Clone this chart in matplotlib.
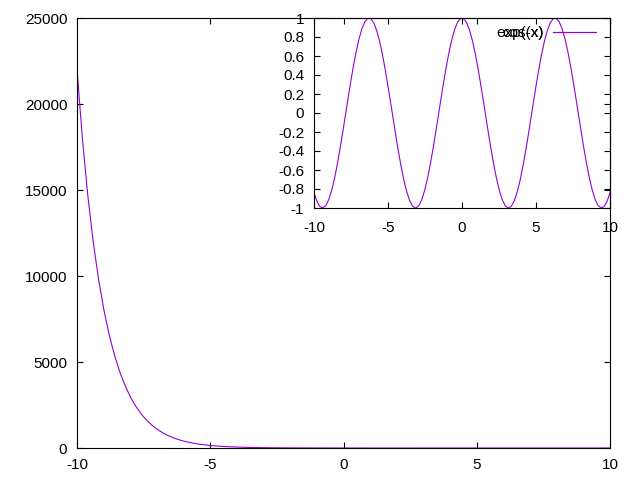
import matplotlib

matplotlib.use("Agg")
import matplotlib.pyplot as plt
import numpy as np

# gnuplot-style function plot: exp(-x) with a cos(x) inset, 100 samples
x = np.linspace(-10, 10, 100)
exp_vals = np.exp(-x)
cos_vals = np.cos(x)

main_xticks = [-10, -5, 0, 5, 10]
main_yticks = [0, 5000, 10000, 15000, 20000, 25000]
inset_xticks = [-10, -5, 0, 5, 10]
inset_yticks = [-1, -0.8, -0.6, -0.4, -0.2, 0, 0.2, 0.4, 0.6, 0.8, 1]
inset_ylabels = ["-1", "-0.8", "-0.6", "-0.4", "-0.2", "0", "0.2", "0.4", "0.6", "0.8", "1"]

color = "#9400d3"

plt.rcParams["font.family"] = ["Liberation Sans", "DejaVu Sans"]
plt.rcParams["font.size"] = 11
plt.rcParams["axes.unicode_minus"] = False

W, H = 640, 480
fig = plt.figure(figsize=(W / 100, H / 100), dpi=100)


def px_axes(left, top, right, bottom):
    return [left / W, 1 - bottom / H, (right - left) / W, (bottom - top) / H]


def style(ax):
    for s in ax.spines.values():
        s.set_linewidth(0.8)
    ax.tick_params(direction="in", top=True, right=True, length=4.5, width=0.8,
                   labelsize=11, pad=7)


ax = fig.add_axes(px_axes(77, 18, 610, 448))
ax.plot(x, exp_vals, color=color, lw=0.8, label="exp(-x)")
ax.set_xlim(-10, 10)
ax.set_ylim(0, 25000)
ax.set_xticks(main_xticks)
ax.set_yticks(main_yticks)
style(ax)
ax.legend(loc="center right", bbox_to_anchor=(596 / W, 1 - 33 / H),
          bbox_transform=fig.transFigure, frameon=False, markerfirst=False,
          borderpad=0, borderaxespad=0, handlelength=2.8, handletextpad=0.6,
          fontsize=11)

ins = fig.add_axes(px_axes(314, 18, 610, 208))
ins.patch.set_alpha(0)
ins.plot(x, cos_vals, color=color, lw=0.8, label="cos(x)")
ins.set_xlim(-10, 10)
ins.set_ylim(-1, 1)
ins.set_xticks(inset_xticks)
ins.set_yticks(inset_yticks)
ins.set_yticklabels(inset_ylabels)
style(ins)
ins.tick_params(axis="x", pad=9)
ins.legend(loc="center right", bbox_to_anchor=(596 / W, 1 - 33 / H),
           bbox_transform=fig.transFigure, frameon=False, markerfirst=False,
           borderpad=0, borderaxespad=0, handlelength=2.8, handletextpad=0.6,
           fontsize=11)

fig.savefig("out.png", dpi=100)
